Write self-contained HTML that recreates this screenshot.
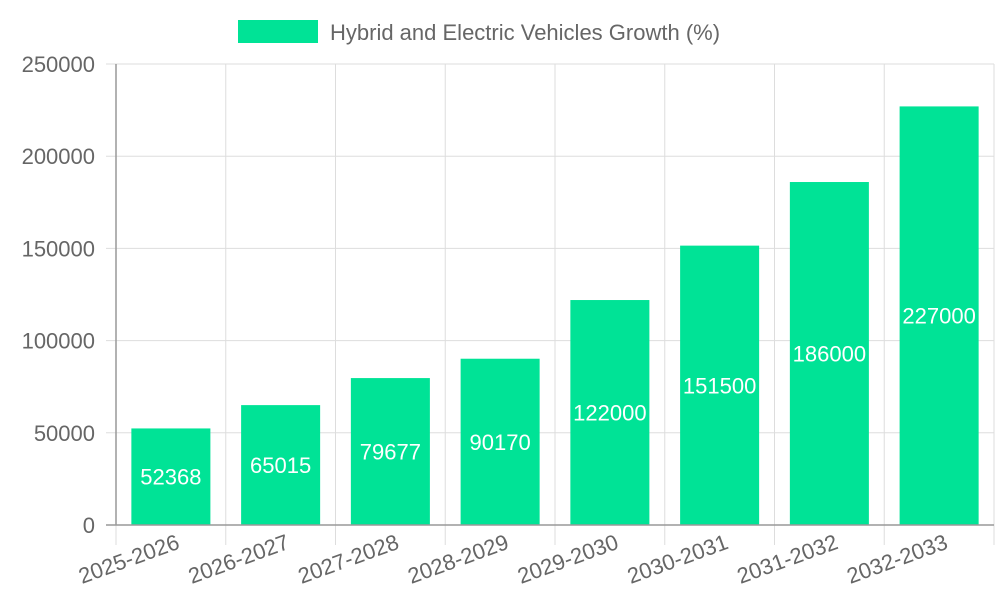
<!DOCTYPE html>
<html><head><meta charset="utf-8"><style>
body{margin:0;background:#fff;font-family:"Liberation Sans",sans-serif;}
svg text{font-family:"Liberation Sans",sans-serif;}
</style></head><body>
<svg id="chart" width="1000" height="600" xmlns="http://www.w3.org/2000/svg">
<g>
<rect x="238" y="20" width="80" height="23" fill="#00e396"/>
<text x="330" y="40" font-size="22" fill="#666">Hybrid and Electric Vehicles Growth (%)</text>
</g>
<g id="grid"></g>
<g id="bars"></g>
<g id="axes"></g>
</svg>
<script>
const categories=["2025-2026","2026-2027","2027-2028","2028-2029","2029-2030","2030-2031","2031-2032","2032-2033"];
const values=[52368,65015,79677,90170,122000,151500,186000,227000];
const yTicks=[0,50000,100000,150000,200000,250000];
const NS="http://www.w3.org/2000/svg";
const L=116,R=994,T=64,B=525,YMAX=250000;
const band=(R-L)/categories.length;
const y=v=>B-(v/YMAX)*(B-T);
const x=i=>L+band*i;
function mk(tag,attrs,parent){const e=document.createElementNS(NS,tag);for(const k in attrs)e.setAttribute(k,attrs[k]);parent.appendChild(e);return e;}
const grid=document.getElementById('grid'),bars=document.getElementById('bars'),axes=document.getElementById('axes');
yTicks.forEach(t=>{
 const ln=mk('line',{x1:106,x2:R,y1:y(t),y2:y(t),stroke:'#ddd','stroke-width':1},grid);
 
 
 const tx=mk('text',{x:95,y:y(t)+8,'text-anchor':'end','font-size':22,fill:'#666'},axes);
 tx.textContent=t;
 
 
});
for(let i=0;i<=categories.length;i++){
 const ln=mk('line',{x1:x(i),x2:x(i),y1:T,y2:545,stroke:'#ddd','stroke-width':1},grid);
 
 
}
mk('line',{x1:L,x2:L,y1:T,y2:B,stroke:'#999','stroke-width':1.5},axes);
mk('line',{x1:106,x2:R,y1:B,y2:B,stroke:'#999','stroke-width':1.5},axes);
categories.forEach((c,i)=>{
 const bw=band*0.72,bx=x(i)+(band-bw)/2,by=y(values[i]);
 const r=mk('rect',{x:bx,y:by,width:bw,height:B-by,fill:'#00e396'},bars);
 
 
 const vt=mk('text',{x:bx+bw/2,y:(by+B)/2+8,'text-anchor':'middle','font-size':22,fill:'#fff'},bars);
 vt.textContent=values[i];
 
 
 const cx=x(i)+band/2+10;
 const lt=mk('text',{x:cx,y:548,'text-anchor':'end','font-size':22,fill:'#666',transform:`rotate(-20 ${cx} 548)`},axes);
 lt.textContent=c;
 
 
});
</script>
</body></html>
